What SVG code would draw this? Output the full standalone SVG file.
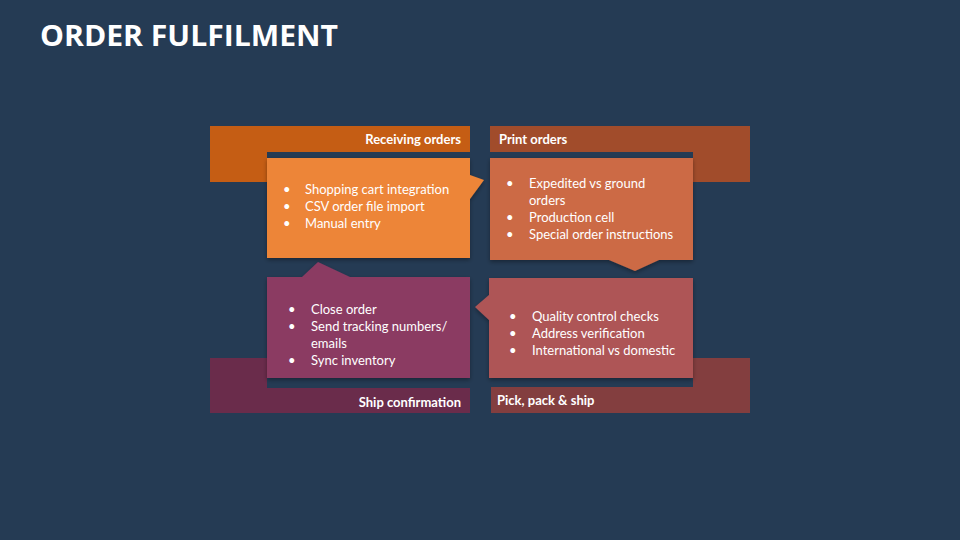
<svg xmlns="http://www.w3.org/2000/svg" width="960" height="540" viewBox="0 0 960 540">
<style>
.t{font-family:Lato,"Open Sans","Liberation Sans",sans-serif;font-size:13px;fill:#fff}
.h{font-family:Lato,"Open Sans","Liberation Sans",sans-serif;font-size:13px;font-weight:bold;fill:#fff}
</style>
<defs><filter id="sh" x="-10%" y="-10%" width="120%" height="130%"><feDropShadow dx="0" dy="2" stdDeviation="2" flood-color="#000" flood-opacity="0.35"/></filter></defs>
<rect width="960" height="540" fill="#253B54"/>
<text x="40" y="46" font-family="'Open Sans','Liberation Sans',sans-serif" font-weight="bold" font-size="29" fill="#fff" textLength="298" lengthAdjust="spacingAndGlyphs">ORDER FULFILMENT</text>
<g id="receiving">
<path d="M210 126H470V152H267V182H210Z" fill="#C55D14"/>
<text class="h" x="461" y="144" text-anchor="end">Receiving orders</text>
<path d="M267 158H470V175L484 180L470 199V258H267Z" fill="#ED8537" filter="url(#sh)"/>
<text class="t" x="283" y="194">•</text><text class="t" x="305" y="194">Shopping cart integration</text>
<text class="t" x="283" y="211">•</text><text class="t" x="305" y="211">CSV order file import</text>
<text class="t" x="283" y="228">•</text><text class="t" x="305" y="228">Manual entry</text>
</g>
<g id="print">
<path d="M490 126H750V182H693V152H490Z" fill="#A14C2B"/>
<text class="h" x="499" y="144">Print orders</text>
<path d="M490 158H693V260H659L635 271L609 260H490Z" fill="#CC6A45" filter="url(#sh)"/>
<text class="t" x="506" y="188">•</text><text class="t" x="529" y="188">Expedited vs ground</text>
<text class="t" x="529" y="205">orders</text>
<text class="t" x="506" y="222">•</text><text class="t" x="529" y="222">Production cell</text>
<text class="t" x="506" y="239">•</text><text class="t" x="529" y="239">Special order instructions</text>
</g>
<g id="pick">
<path d="M693 358H750V413H491V387H693Z" fill="#833E3F"/>
<text class="h" x="497" y="405">Pick, pack &amp; ship</text>
<path d="M489 278H693V378H489V320L475 307L489 295Z" fill="#AE5557" filter="url(#sh)"/>
<text class="t" x="509" y="321">•</text><text class="t" x="532" y="321">Quality control checks</text>
<text class="t" x="509" y="338">•</text><text class="t" x="532" y="338">Address verification</text>
<text class="t" x="509" y="355">•</text><text class="t" x="532" y="355">International vs domestic</text>
</g>
<g id="ship">
<path d="M210 358H267V388H470V413H210Z" fill="#6A2C4B"/>
<text class="h" x="461" y="407" text-anchor="end">Ship confirmation</text>
<path d="M267 277H302L318 262L350 277H470V378H267Z" fill="#8B3A62" filter="url(#sh)"/>
<text class="t" x="288" y="314">•</text><text class="t" x="311" y="314">Close order</text>
<text class="t" x="288" y="331">•</text><text class="t" x="311" y="331">Send tracking numbers/</text>
<text class="t" x="311" y="348">emails</text>
<text class="t" x="288" y="365">•</text><text class="t" x="311" y="365">Sync inventory</text>
</g>
<g id="connectors"></g>
</svg>
